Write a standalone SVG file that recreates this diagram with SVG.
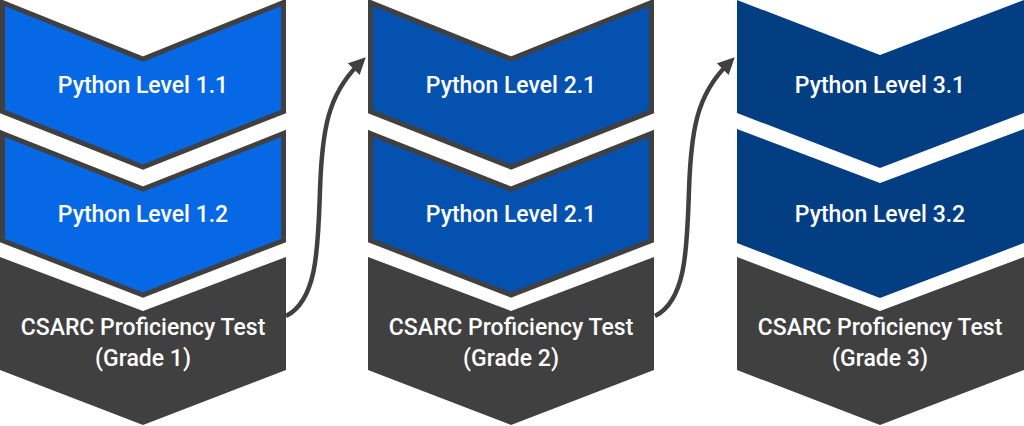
<svg xmlns="http://www.w3.org/2000/svg" width="1024" height="426" viewBox="0 0 1024 426">
  <style>
    .c1 { fill: #0768E6; stroke: #404040; stroke-width: 5; stroke-linejoin: miter; }
    .c2 { fill: #0551B0; stroke: #404040; stroke-width: 5; stroke-linejoin: miter; }
    .c3 { fill: #033E82; }
    .g { fill: #404040; }
    .t { font-family: Roboto, "Liberation Sans", sans-serif; font-size: 23px; font-weight: 500; fill: #ffffff; text-anchor: middle; }
    .conn { fill: none; stroke: #404040; stroke-width: 4.5; }
  </style>
  <defs>
    <path id="chevS1" d="M2.5,2.5 L143,59 L283.5,2.5 L283.5,111.5 L143,167 L2.5,111.5 Z"/>
    <path id="chevS2" d="M2.5,133.5 L143,189 L283.5,133.5 L283.5,240.5 L143,295 L2.5,240.5 Z"/>
    <path id="chevG" d="M0,257 L143,311 L286,257 L286,370 L143,425 L0,370 Z"/>
    <marker id="arrow" markerUnits="userSpaceOnUse" markerWidth="18" markerHeight="18" refX="6" refY="8.3" orient="auto">
      <path d="M0,0 L17,8.3 L0,16.6 Z" fill="#404040"/>
    </marker>
  </defs>

  <g id="col1">
    <g id="py11">
      <use href="#chevS1" class="c1"/>
      <text class="t" x="143" y="93">Python Level 1.1</text>
    </g>
    <g id="py12">
      <use href="#chevS2" class="c1"/>
      <text class="t" x="143" y="222">Python Level 1.2</text>
    </g>
    <g id="test1">
      <use href="#chevG" class="g"/>
      <text class="t" x="143" y="335">CSARC Proficiency Test</text>
      <text class="t" x="143" y="366">(Grade 1)</text>
    </g>
  </g>

  <g id="col2" transform="translate(368,0)">
    <g id="py21a">
      <use href="#chevS1" class="c2"/>
      <text class="t" x="143" y="93">Python Level 2.1</text>
    </g>
    <g id="py21b">
      <use href="#chevS2" class="c2"/>
      <text class="t" x="143" y="222">Python Level 2.1</text>
    </g>
    <g id="test2">
      <use href="#chevG" class="g"/>
      <text class="t" x="143" y="335">CSARC Proficiency Test</text>
      <text class="t" x="143" y="366">(Grade 2)</text>
    </g>
  </g>

  <g id="col3" transform="translate(737,0)">
    <g id="py31">
      <path class="c3" d="M0,0 L143,55 L287,0 L287,113 L143,168 L0,113 Z"/>
      <text class="t" x="143" y="93">Python Level 3.1</text>
    </g>
    <g id="py32">
      <path class="c3" d="M0,129 L143,183 L287,129 L287,243 L143,298 L0,243 Z"/>
      <text class="t" x="143" y="222">Python Level 3.2</text>
    </g>
    <g id="test3">
      <path class="g" d="M0,257 L143,311 L287,257 L287,370 L143,425 L0,370 Z"/>
      <text class="t" x="143" y="335">CSARC Proficiency Test</text>
      <text class="t" x="143" y="366">(Grade 3)</text>
    </g>
  </g>

  <g id="connectors">
    <path class="conn" d="M286,316 C318,300 318,245 320,190 C322,130 328,95 358,65" marker-end="url(#arrow)"/>
    <path class="conn" d="M655,316 C687,300 687,245 689,190 C691,130 697,95 727,65" marker-end="url(#arrow)"/>
  </g>
</svg>
